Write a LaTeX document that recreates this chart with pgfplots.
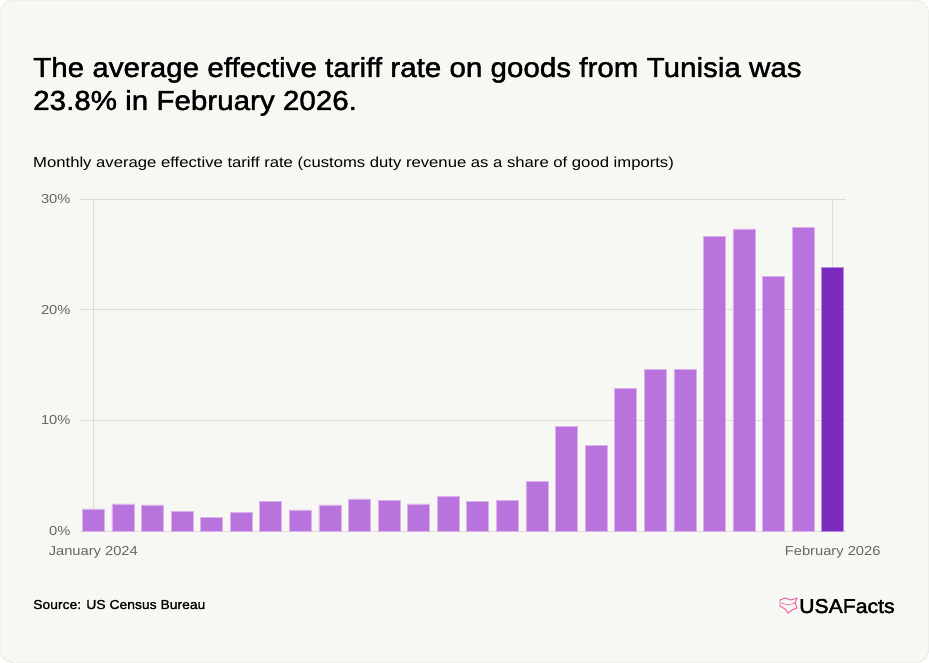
\documentclass[border=0pt]{standalone}
\usepackage{pgfplots}
\pgfplotsset{compat=1.18}
\usepackage{fontspec}
\setmainfont{Liberation Sans}
\newfontfamily\titlefont[FakeStretch=1.075, FakeBold=1.5]{Liberation Sans}
\newfontfamily\subfont[FakeStretch=1.15]{Liberation Sans}
\newfontfamily\tickfont[FakeStretch=1.13]{Liberation Sans}
\newfontfamily\srcfont[FakeStretch=1.07, FakeBold=1.2]{Liberation Sans}
\newfontfamily\logofont[FakeStretch=1.06, FakeBold=2]{Liberation Sans}
\definecolor{bg}{HTML}{F7F7F3}
\definecolor{barc}{HTML}{B973DC}
\definecolor{barlast}{HTML}{7B2CBF}
\definecolor{gridc}{HTML}{DDDDD8}
\definecolor{tickc}{HTML}{666666}
\definecolor{pinkc}{HTML}{E8559A}
\begin{document}
\begin{tikzpicture}[x=1pt,y=1pt]
\fill[white] (0,0) rectangle (929,663);
\filldraw[fill=bg, draw=gridc, rounded corners=12pt] (0.5,0.5) rectangle (928.5,662.5);
\node[anchor=base west, inner sep=0, font=\titlefont\fontsize{27.5}{30}\selectfont] at (33,586) {The average effective tariff rate on goods from Tunisia was};
\node[anchor=base west, inner sep=0, font=\titlefont\fontsize{27.5}{30}\selectfont] at (33,553) {23.8\% in February 2026.};
\node[anchor=base west, inner sep=0, font=\subfont\fontsize{14.5}{17}\selectfont] at (33,495) {Monthly average effective tariff rate (customs duty revenue as a share of good imports)};
\node[anchor=base west, inner sep=0, font=\srcfont\fontsize{13}{16}\selectfont] at (33,54) {Source: US Census Bureau};
\node[anchor=base west, inner sep=0, font=\logofont\fontsize{20}{24}\selectfont] at (799,50) {USAFacts};
\draw[pinkc, line width=0.9pt, line join=round] (780,63) -- (785,65) -- (791,63) -- (797,65) -- (795,60) -- (797,55) -- (792,53) -- (788,50) -- (785,54) -- (780,57) -- cycle;
\draw[pinkc, line width=0.6pt] (781,60) -- (788,58) -- (795,60);
\begin{axis}[
  at={(80pt,132pt)}, anchor=south west,
  width=766pt, height=332pt, scale only axis,
  xmin=-0.45, xmax=25.45, ymin=0, ymax=30,
  axis line style={draw=none},
  xtick={0,25}, xticklabels={January 2024,February 2026},
  ytick={0,10,20,30}, yticklabels={0\%,10\%,20\%,30\%},
  major tick style={draw=none},
  xmajorgrids, ymajorgrids,
  grid style={gridc, line width=0.8pt},
  tick label style={text=tickc, font=\tickfont\fontsize{13}{15}\selectfont},
  yticklabel style={xshift=-6pt},
  xticklabel style={yshift=-12pt},
  clip=false,
]
\addplot[ybar, bar width=0.744, bar shift=0pt, fill=barc, draw=barc!55!white, line width=0.6pt] coordinates {
(0,2.0) (1,2.45) (2,2.35) (3,1.8) (4,1.25) (5,1.65) (6,2.7) (7,1.9) (8,2.35) (9,2.9)
(10,2.8) (11,2.45) (12,3.1) (13,2.7) (14,2.8) (15,4.5) (16,9.45) (17,7.75) (18,12.9) (19,14.6)
(20,14.6) (21,26.6) (22,27.3) (23,23.0) (24,27.4)};
\addplot[ybar, bar width=0.744, bar shift=0pt, fill=barlast, draw=barlast!55!white, line width=0.6pt] coordinates {(25,23.8)};
\end{axis}
\end{tikzpicture}
\end{document}
